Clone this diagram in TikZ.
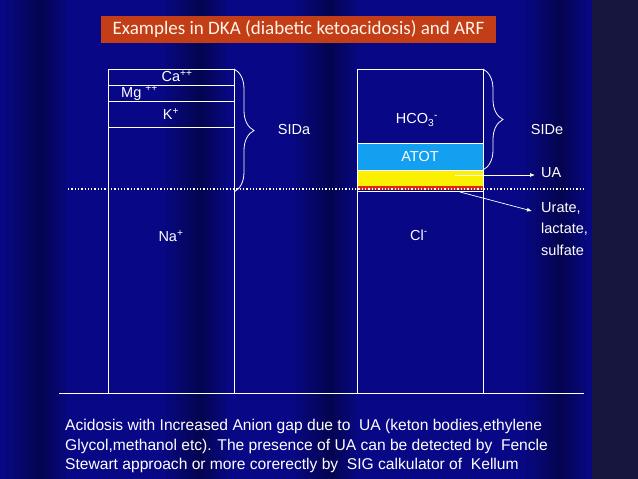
\documentclass[tikz,border=0pt]{standalone}
\usepackage{fontspec}
\setmainfont{Liberation Sans}
\newfontfamily\calib{Carlito}
\usetikzlibrary{decorations.pathreplacing,arrows.meta}
\definecolor{bgblue}{RGB}{8,8,135}
\definecolor{bgdark}{RGB}{4,4,80}
\definecolor{edge}{RGB}{22,22,62}
\definecolor{titleor}{RGB}{195,62,22}
\definecolor{atot}{RGB}{20,160,240}
\definecolor{uay}{RGB}{250,240,0}
\definecolor{redl}{RGB}{220,40,20}
\tikzset{
  wl/.style={draw=white, line width=0.8pt},
  lab/.style={text=white, font=\fontsize{14.5}{17}\selectfont, inner sep=0pt},
  brc/.style={draw=white, line width=0.8pt, decorate, decoration={brace, amplitude=20pt, aspect=0.5}},
  arr/.style={draw=white, line width=0.7pt, -{Latex[length=5pt,width=4pt]}}
}
\begin{document}
\begin{tikzpicture}[x=1pt,y=-1pt]
\useasboundingbox (0,0) rectangle (638,479);
\fill[bgblue] (0,0) rectangle (638,479);
\foreach \a/\b in {0/40, 160/200, 290/330, 520/560}{
  \shade[left color=bgblue, right color=bgdark] (\a,0) rectangle (\b,479);
}
\foreach \a/\b in {40/70, 200/230, 330/360, 560/590}{
  \shade[left color=bgdark, right color=bgblue] (\a,0) rectangle (\b,479);
}
\fill[edge] (592,0) rectangle (638,479);
% title
\node[fill=titleor, text=white!92!orange, font=\calib\fontsize{19}{21}\selectfont, minimum width=395pt, minimum height=27pt, inner sep=0pt] (title) at (298.5,29.5) {Examples in DKA (diabetic ketoacidosis) and ARF};
% left column
\draw[wl] (108,393) -- (108,69) -- (234,69) -- (234,393);
\draw[wl] (108,85) -- (234,85);
\draw[wl] (108,101) -- (234,101);
\draw[wl] (108,127) -- (234,127);
% right column
\fill[atot] (357,143) rectangle (483,170);
\fill[uay] (357,170) rectangle (483,186);
\fill[redl] (357,186) rectangle (483,190);
\draw[wl] (357,393) -- (357,69) -- (483,69) -- (483,393);
\draw[wl] (357,143) -- (483,143);
\draw[wl] (357,170) -- (483,170);
\draw[wl] (357,191) -- (483,191);
% baseline & dotted
\draw[wl] (59,393) -- (584,393);
\draw[white, line width=1.3pt, dotted] (68,189) -- (583,189);
% labels
\node[lab] (ca) at (177,76) {Ca\textsuperscript{++}};
\node[lab, anchor=west] (mg) at (121,93) {Mg \textsuperscript{++}};
\node[lab] (k) at (171,114) {K\textsuperscript{+}};
\node[lab] (na) at (171,236) {Na\textsuperscript{+}};
\node[lab] (hco) at (417,120) {HCO\textsubscript{3}\textsuperscript{-}};
\node[lab] (atotl) at (420,157) {ATOT};
\node[lab] (cl) at (419,235) {Cl\textsuperscript{-}};
\node[lab] (sida) at (294,130) {SIDa};
\node[lab] (side) at (547,130) {SIDe};
\node[lab, anchor=west] (ua) at (541,173) {UA};
\node[lab, anchor=north west, align=left, font=\fontsize{14.5}{21.5}\selectfont] (urate) at (541,202) {Urate,\\lactate,\\sulfate};
% braces
\coordinate (b1a) at (234,69); \coordinate (b1b) at (234,192);
\draw[brc] (b1a) -- (b1b);
\coordinate (b2a) at (483,69); \coordinate (b2b) at (483,170);
\draw[brc] (b2a) -- (b2b);
% arrows
\coordinate (uas) at (455,175);
\draw[arr] (uas) -- ([xshift=-6pt]ua.west |- uas);
\coordinate (urs) at (460,192);
\draw[arr] (urs) -- (532,211);
% bottom text
\node[text=white, anchor=north west, align=left, inner sep=0pt, font=\fontsize{15.6}{19.5}\selectfont] (txt) at (65,419) {Acidosis with Increased Anion gap due to\ \ UA (keton bodies,ethylene\\Glycol,methanol etc). The presence of UA can be detected by\ \ Fencle\\Stewart approach or more corerectly by\ \ SIG calkulator of\ \ Kellum};
\end{tikzpicture}
\end{document}
